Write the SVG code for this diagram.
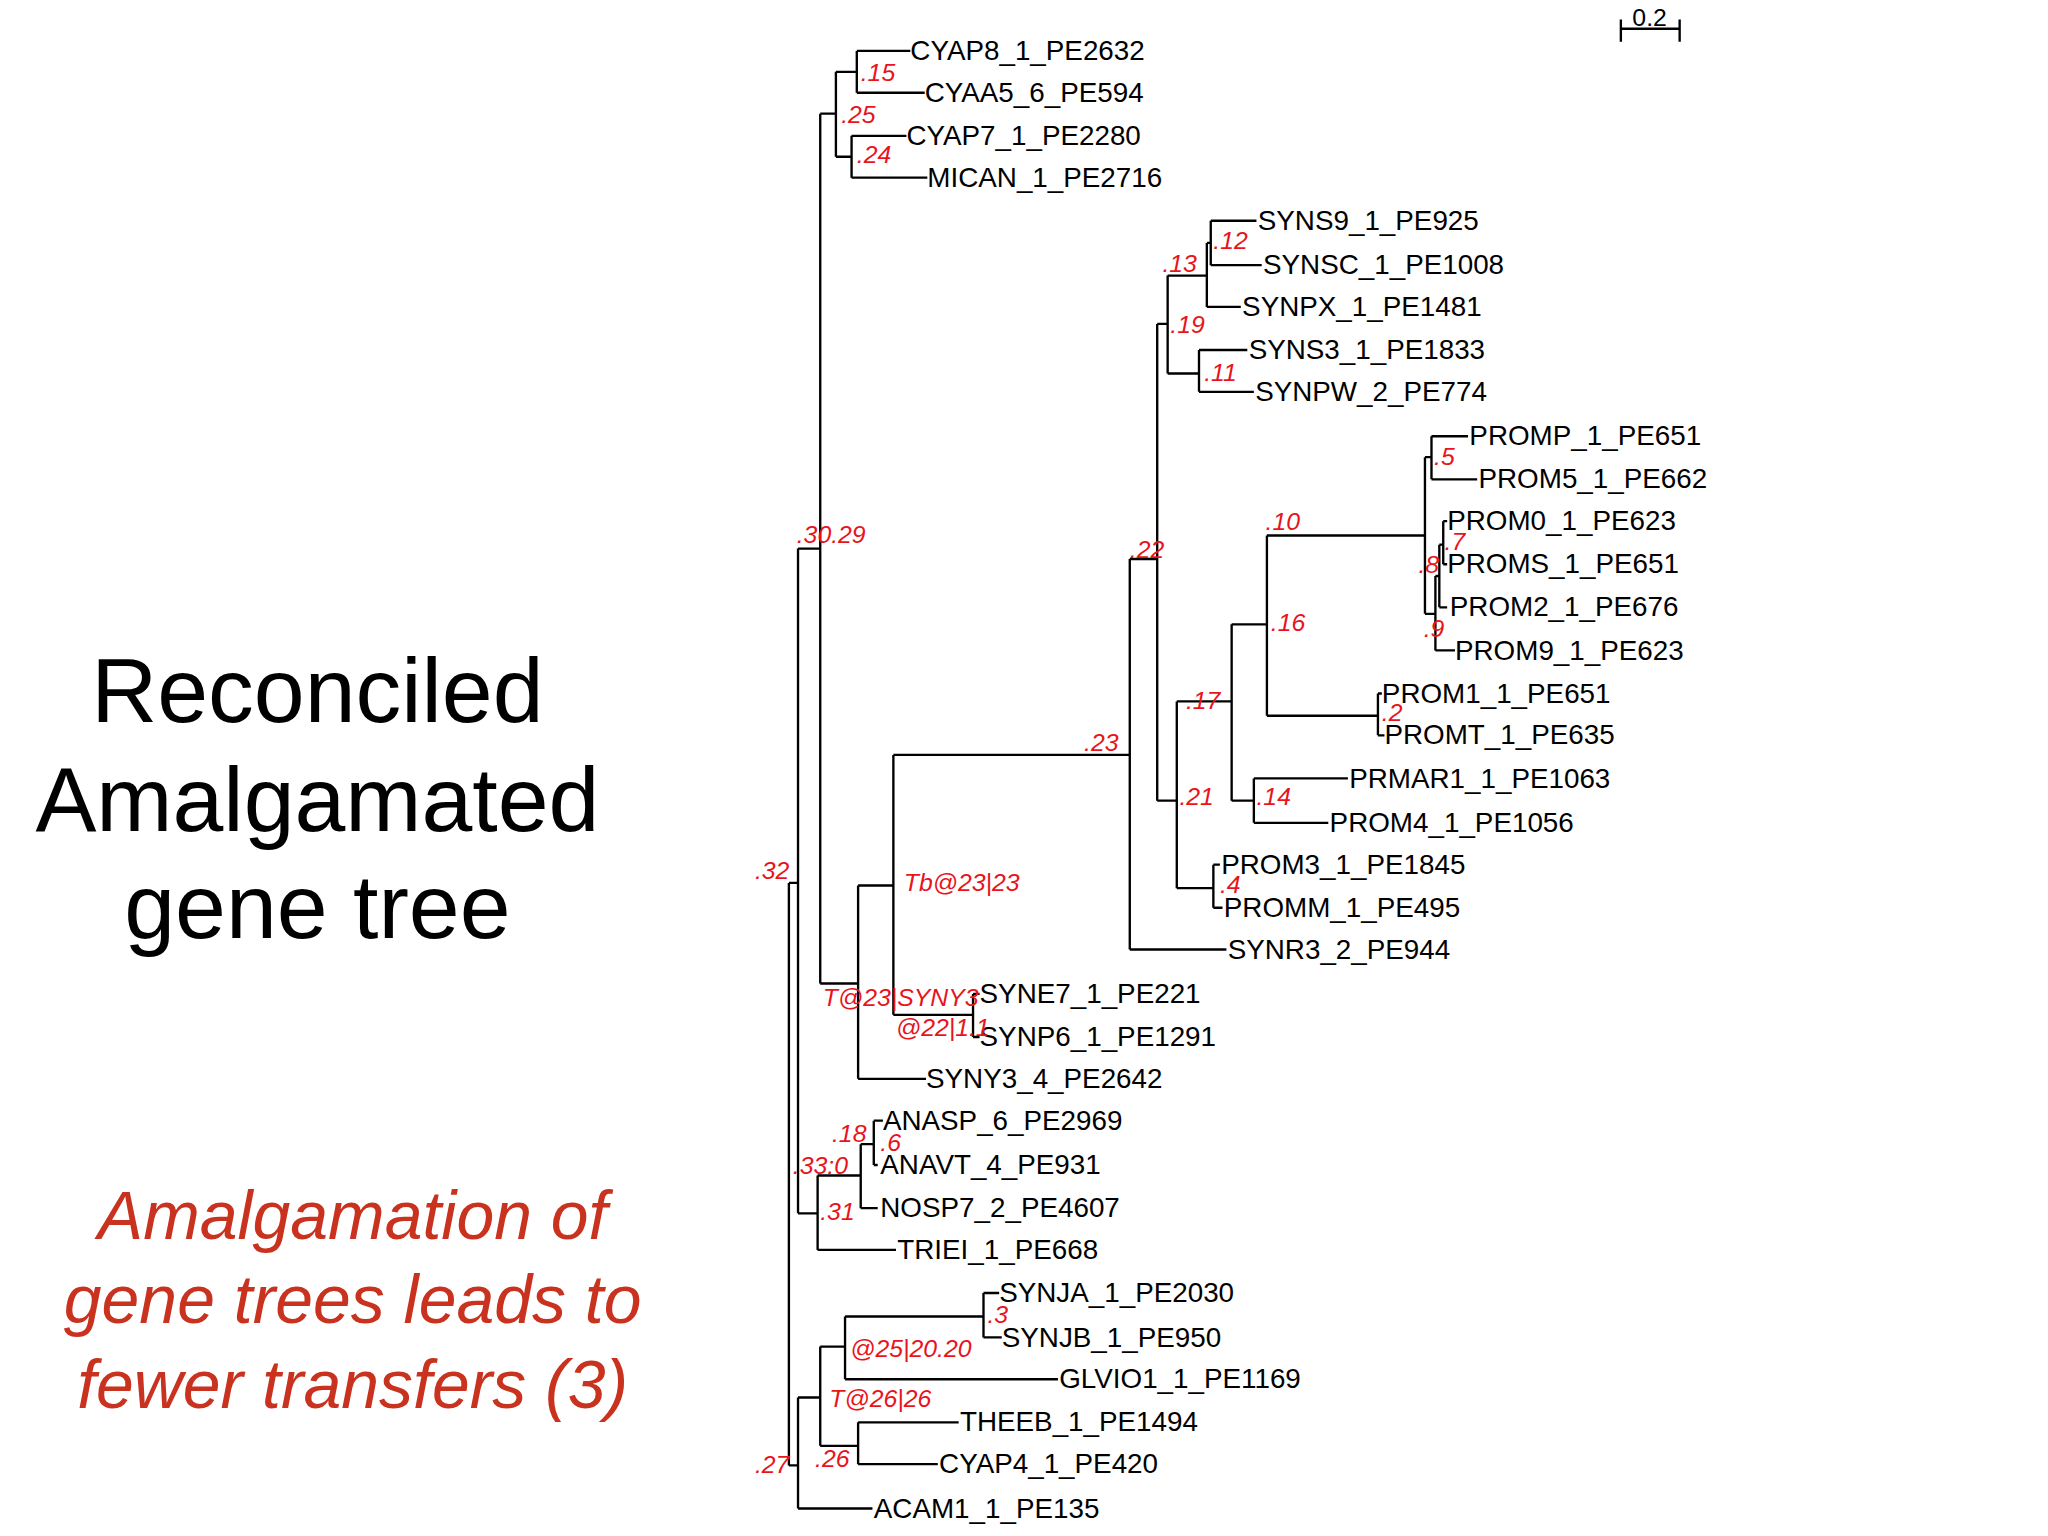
<svg xmlns="http://www.w3.org/2000/svg" width="2048" height="1536" viewBox="0 0 2048 1536">
<style>
.e{fill:none;stroke:#000;stroke-width:1.8}
.l{font-family:"Liberation Sans",Arial,sans-serif;font-size:21.3px;fill:#000}
.s{font-family:"Liberation Sans",Arial,sans-serif;font-size:19px;font-style:italic;fill:#e8141c}
.t{font-family:"Liberation Sans",Arial,sans-serif;font-size:70px;fill:#000;text-anchor:middle}
.r{font-family:"Liberation Sans",Arial,sans-serif;font-style:italic;font-size:52px;fill:#c8321e;text-anchor:middle}
</style>
<rect width="2048" height="1536" fill="#fff"/>
<g transform="scale(1.3061)">
<g id="title"><text class="t" x="243" y="553">Reconciled</text><text class="t" x="243" y="636">Amalgamated</text><text class="t" x="243" y="718">gene tree</text></g>
<g id="caption"><text class="r" x="270" y="949">Amalgamation of</text><text class="r" x="270" y="1013">gene trees leads to</text><text class="r" x="270" y="1078">fewer transfers (3)</text></g>
<g id="scale"><path class="e" d="M1241,22H1286M1241,15V32M1286,15V32"/><text class="l" x="1263" y="20" text-anchor="middle" style="font-size:19px">0.2</text></g>
<g id="connectors">
<path class="e" d="M604,676V1122M604,676H611M604,1122H611"/>
<path class="e" d="M611,420V929M611,420H628M611,929H626"/>
<path class="e" d="M628,87V753M628,87H640M628,753H657"/>
<path class="e" d="M640,55V120M640,55H656M640,120H652"/>
<path class="e" d="M656,39V71M656,39H697M656,71H708"/>
<path class="e" d="M652,104V136M652,104H694M652,136H710"/>
<path class="e" d="M657,678V826M657,678H684M657,826H709"/>
<path class="e" d="M684,578V777M684,578H865M684,777H745"/>
<path class="e" d="M745,761V794M745,761H750M745,794H750"/>
<path class="e" d="M865,428V727M865,428H886M865,727H939"/>
<path class="e" d="M886,248V613M886,248H894M886,613H901"/>
<path class="e" d="M894,211V286M894,211H924M894,286H918"/>
<path class="e" d="M924,186V235M924,186H927M924,235H950"/>
<path class="e" d="M927,169V203M927,169H962M927,203H966"/>
<path class="e" d="M918,268V300M918,268H955M918,300H960"/>
<path class="e" d="M901,537V680M901,537H943M901,680H929"/>
<path class="e" d="M929,662V695M929,662H934M929,695H936"/>
<path class="e" d="M943,478V613M943,478H970M943,613H960"/>
<path class="e" d="M960,596V630M960,596H1032M960,630H1017"/>
<path class="e" d="M970,410V548M970,410H1091M970,548H1055"/>
<path class="e" d="M1055,531V563M1055,531H1058M1055,563H1060"/>
<path class="e" d="M1091,350V470M1091,350H1096M1091,470H1099"/>
<path class="e" d="M1096,334V367M1096,334H1124M1096,367H1131"/>
<path class="e" d="M1099,441V498M1099,441H1102M1099,498H1114"/>
<path class="e" d="M1102,417V465M1102,417H1105M1102,465H1108"/>
<path class="e" d="M1105,399V432M1105,399H1108M1105,432H1108"/>
<path class="e" d="M626,900V957M626,900H659M626,957H686"/>
<path class="e" d="M659,876V925M659,876H669M659,925H672"/>
<path class="e" d="M669,858V892M669,858H676M669,892H672"/>
<path class="e" d="M611,1070V1155M611,1070H628M611,1155H668"/>
<path class="e" d="M628,1031V1107M628,1031H647M628,1107H657"/>
<path class="e" d="M647,1008V1056M647,1008H753M647,1056H810"/>
<path class="e" d="M753,990V1024M753,990H765M753,1024H767"/>
<path class="e" d="M657,1089V1121M657,1089H734M657,1121H718"/>
</g>
<g id="leaves">
<text class="l" x="697" y="46">CYAP8_1_PE2632</text>
<text class="l" x="708" y="78">CYAA5_6_PE594</text>
<text class="l" x="694" y="111">CYAP7_1_PE2280</text>
<text class="l" x="710" y="143">MICAN_1_PE2716</text>
<text class="l" x="963" y="176">SYNS9_1_PE925</text>
<text class="l" x="967" y="210">SYNSC_1_PE1008</text>
<text class="l" x="951" y="242">SYNPX_1_PE1481</text>
<text class="l" x="956" y="275">SYNS3_1_PE1833</text>
<text class="l" x="961" y="307">SYNPW_2_PE774</text>
<text class="l" x="1125" y="341">PROMP_1_PE651</text>
<text class="l" x="1132" y="374">PROM5_1_PE662</text>
<text class="l" x="1108" y="406">PROM0_1_PE623</text>
<text class="l" x="1108" y="439">PROMS_1_PE651</text>
<text class="l" x="1110" y="472">PROM2_1_PE676</text>
<text class="l" x="1114" y="505">PROM9_1_PE623</text>
<text class="l" x="1058" y="538">PROM1_1_PE651</text>
<text class="l" x="1060" y="570">PROMT_1_PE635</text>
<text class="l" x="1033" y="603">PRMAR1_1_PE1063</text>
<text class="l" x="1018" y="637">PROM4_1_PE1056</text>
<text class="l" x="935" y="669">PROM3_1_PE1845</text>
<text class="l" x="937" y="702">PROMM_1_PE495</text>
<text class="l" x="940" y="734">SYNR3_2_PE944</text>
<text class="l" x="750" y="768">SYNE7_1_PE221</text>
<text class="l" x="750" y="801">SYNP6_1_PE1291</text>
<text class="l" x="709" y="833">SYNY3_4_PE2642</text>
<text class="l" x="676" y="865">ANASP_6_PE2969</text>
<text class="l" x="674" y="899">ANAVT_4_PE931</text>
<text class="l" x="674" y="932">NOSP7_2_PE4607</text>
<text class="l" x="687" y="964">TRIEI_1_PE668</text>
<text class="l" x="765" y="997">SYNJA_1_PE2030</text>
<text class="l" x="767" y="1031">SYNJB_1_PE950</text>
<text class="l" x="811" y="1063">GLVIO1_1_PE1169</text>
<text class="l" x="735" y="1096">THEEB_1_PE1494</text>
<text class="l" x="719" y="1128">CYAP4_1_PE420</text>
<text class="l" x="669" y="1162">ACAM1_1_PE135</text>
</g>
<g id="support">
<text class="s" x="659" y="62">.15</text>
<text class="s" x="644" y="94">.25</text>
<text class="s" x="656" y="125">.24</text>
<text class="s" x="929" y="191">.12</text>
<text class="s" x="890" y="208">.13</text>
<text class="s" x="896" y="255">.19</text>
<text class="s" x="922" y="292">.11</text>
<text class="s" x="1098" y="356">.5</text>
<text class="s" x="969" y="406">.10</text>
<text class="s" x="1106" y="421">.7</text>
<text class="s" x="1086" y="439">.8</text>
<text class="s" x="1090" y="488">.9</text>
<text class="s" x="865" y="427">.22</text>
<text class="s" x="973" y="483">.16</text>
<text class="s" x="908" y="543">.17</text>
<text class="s" x="1058" y="552">.2</text>
<text class="s" x="903" y="616">.21</text>
<text class="s" x="962" y="616">.14</text>
<text class="s" x="934" y="684">.4</text>
<text class="s" x="830" y="575">.23</text>
<text class="s" x="610" y="416">.30.29</text>
<text class="s" x="692" y="682">Tb@23|23</text>
<text class="s" x="578" y="673">.32</text>
<text class="s" x="630" y="770">T@23|SYNY3</text>
<text class="s" x="686" y="793">@22|1.1</text>
<text class="s" x="637" y="874">.18</text>
<text class="s" x="674" y="881">.6</text>
<text class="s" x="607" y="899">.33:0</text>
<text class="s" x="628" y="934">.31</text>
<text class="s" x="756" y="1013">.3</text>
<text class="s" x="651" y="1039">@25|20.20</text>
<text class="s" x="635" y="1077">T@26|26</text>
<text class="s" x="578" y="1128">.27</text>
<text class="s" x="624" y="1123">.26</text>
</g>
</g>
</svg>
